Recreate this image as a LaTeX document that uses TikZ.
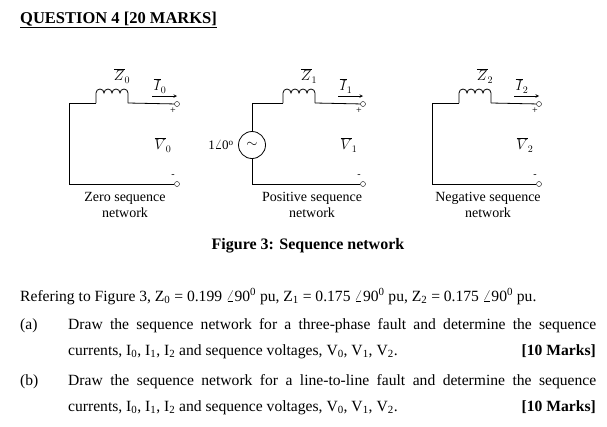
\documentclass[tikz,border=0pt]{standalone}
\usepackage{fontspec}
\setmainfont{Liberation Serif}
\begin{document}
\begin{tikzpicture}[x=1pt,y=-1pt,
  w/.style={line width=0.8pt},
  term/.style={circle,draw,inner sep=0pt,minimum size=5pt,fill=white},
  lbl/.style={font=\fontsize{14}{15}\selectfont,inner sep=0pt},
  sm/.style={font=\fontsize{10}{11}\selectfont,inner sep=0pt},
  body/.style={font=\fontsize{15.6}{18}\selectfont,inner sep=0pt,anchor=base west}]
\useasboundingbox (0,0) rectangle (607,426);
\node[font=\bfseries\fontsize{16.5}{18}\selectfont,anchor=base west,inner sep=0pt] (q) at (20,23) {\underline{QUESTION 4 [20 MARKS]}};
\foreach \n/\xl/\xc/\xt/\sub/\cap in {z/69/96/177/0/Zero sequence,p/252/283/363/1/Positive sequence,n/432/459/539/2/Negative sequence}{
  \coordinate (\n tl) at (\xl,103);
  \coordinate (\n bl) at (\xl,184);
  \coordinate (\n c1) at (\xc,103);
  \coordinate (\n c2) at (\xc+32,103);
  \node[term] (\n t1) at (\xt,104) {};
  \node[term] (\n t2) at (\xt,184) {};
  \draw[w] (\n c1) -- (\n tl) -- (\n bl) -- (\n t2);
  \draw[w] (\n c2) -- (\n t1);
  \draw[w] (\n c1) -- ++(0,-10) arc (180:360:4) arc (180:360:4) arc (180:360:4) arc (180:360:4) -- (\n c2);
  \node[lbl] (\n Z) at (\xc+26,76) {$\overline{Z}_{\sub}$};
  \node[lbl] (\n I) at (\xt-17,86) {$\overline{I}_{\sub}$};
  \coordinate (\n a1) at (\xt-25,96);
  \coordinate (\n a2) at (\xt,96);
  \draw[-stealth,line width=0.6pt] (\n a1) -- (\n a2);
  \node[sm] (\n plus) at (\xt-4,111) {+};
  \node[sm] (\n minus) at (\xt-4,176) {-};
  \node[lbl] (\n V) at (\xt-14,145) {$\overline{V}_{\sub}$};
  \node[font=\fontsize{14}{16}\selectfont,align=center,inner sep=0pt] (\n cap) at (\xc+29,205) {\cap\\network};
}
\fill[white] (245,132) rectangle (260,158);
\node[circle,draw,w,minimum size=27pt,inner sep=0pt,fill=white,font=\Large] (src) at (252,145) {$\sim$};
\node[font=\fontsize{13}{14}\selectfont,inner sep=0pt] (srcl) at (221,145) {1\raisebox{0.2ex}{$\angle$}0$^{\mathrm{o}}$};
\node[font=\bfseries\fontsize{16}{18}\selectfont,inner sep=0pt] (fig) at (308,246) {Figure 3: Sequence network};
\node[body] (t1) at (20,301) {Refering to Figure 3, Z\textsubscript{0} = 0.199 $\angle$90\textsuperscript{0} pu, Z\textsubscript{1} = 0.175 $\angle$90\textsuperscript{0} pu, Z\textsubscript{2} = 0.175 $\angle$90\textsuperscript{0} pu.};
\node[body] (a) at (20,329) {(a)};
\node[body] (a1) at (68,329) {\makebox[528pt][s]{Draw the sequence network for a three-phase fault and determine the sequence}};
\node[body] (a2) at (68,355) {currents, I\textsubscript{0}, I\textsubscript{1}, I\textsubscript{2} and sequence voltages, V\textsubscript{0}, V\textsubscript{1}, V\textsubscript{2}.};
\node[body,anchor=base east,font=\bfseries\fontsize{15.6}{18}\selectfont] (am) at (596,355) {[10 Marks]};
\node[body] (b) at (20,385) {(b)};
\node[body] (b1) at (68,385) {\makebox[528pt][s]{Draw the sequence network for a line-to-line fault and determine the sequence}};
\node[body] (b2) at (68,411) {currents, I\textsubscript{0}, I\textsubscript{1}, I\textsubscript{2} and sequence voltages, V\textsubscript{0}, V\textsubscript{1}, V\textsubscript{2}.};
\node[body,anchor=base east,font=\bfseries\fontsize{15.6}{18}\selectfont] (bm) at (596,411) {[10 Marks]};
\end{tikzpicture}
\end{document}
